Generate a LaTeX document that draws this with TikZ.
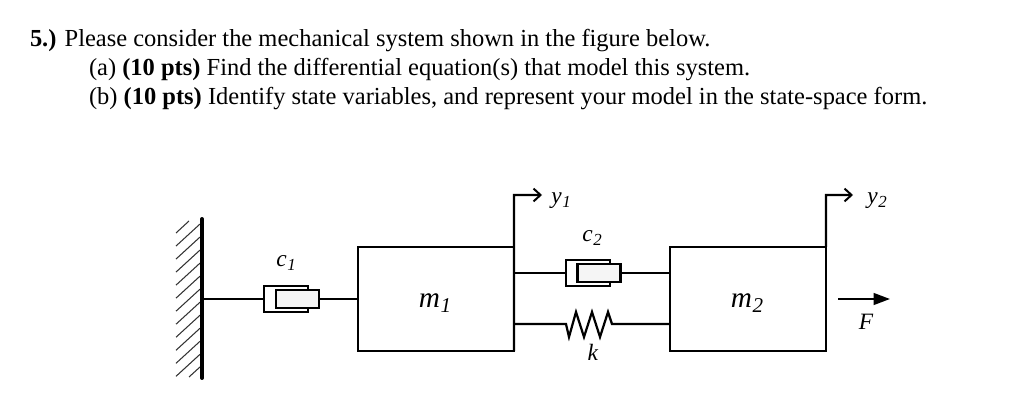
\documentclass[tikz,border=0pt]{standalone}
\usepackage{fontspec}
\setmainfont{Liberation Serif}
\usetikzlibrary{arrows.meta,positioning,calc}

\newcommand{\lab}[2]{\textit{#1}\raisebox{-0.35ex}{\kern0.5pt\scalebox{0.72}{\textit{#2}}}}
\tikzset{
  task/.style={anchor=base west,inner sep=0pt,outer sep=0pt,font=\fontsize{20.9}{25}\selectfont},
  mass/.style={draw,line width=1.9pt,inner sep=0pt,outer sep=0pt,minimum width=4.68cm,minimum height=3.12cm},
  cyl/.style={draw,line width=1.9pt,fill=white,inner sep=0pt,outer sep=0pt,minimum width=1.32cm,minimum height=0.78cm},
  piston/.style={draw,line width=1.9pt,fill=gray!8,inner sep=0pt,outer sep=0pt,minimum width=1.29cm,minimum height=0.52cm},
  wire/.style={line width=1.9pt},
  sym/.style={inner sep=0pt,font=\fontsize{20}{24}\selectfont},
  bigsym/.style={inner sep=0pt,font=\fontsize{25}{28}\selectfont},
  pointer/.style={line width=1.9pt,-{Straight Barb[length=6pt,width=11pt,line width=1.7pt]}}
}

\begin{document}
\begin{tikzpicture}[x=0.03cm,y=-0.03cm]
\useasboundingbox (0,0) rectangle (1024,401);

\node (q0) at (30,47) [task] {\textbf{5.)} Please consider the mechanical system shown in the figure below.};
\node (q1) at (89,76) [task] {(a) \textbf{(10 pts)} Find the differential equation(s) that model this system.};
\node (q2) at (89,105) [task] {(b) \textbf{(10 pts)} Identify state variables, and represent your model in the state-space form.};

% wall
\coordinate (wt) at (202,219);
\coordinate (wb) at (202,378);
\foreach \i in {1,...,11}
  \draw[line width=0.9pt,black!80] (176,233+\i*13.03) -- (200,211+\i*13.03);
\draw[line width=0.9pt,black!80] (176,233) -- (189,221);
\draw[line width=0.9pt,black!80] (189,377) -- (200,367);
\draw[line width=3.4pt,line cap=round] (wt) -- (wb);

% masses
\node (m1) at (436,299) [mass] {};
\node (m2) at (748,299) [mass] {};

% dampers
\node (c1out) at (286,299) [cyl] {};
\node (c1in) at (297.5,299) [piston] {};
\node (c2out) at (588,273) [cyl] {};
\node (c2in) at (599,273) [piston] {};
\coordinate (w1) at (wt |- c1out);
\draw[wire] (w1) -- (c1out.west);
\draw[wire] (c1in.east) -- (m1.west |- c1in.east);
\draw[wire] (m1.east |- c2out.west) -- (c2out.west);
\draw[wire] (c2in.east) -- (m2.west |- c2in.east);

% spring
\coordinate (sp) at (566,324);
\coordinate (se) at (612,324);
\draw[wire] (m1.east |- sp) -- (sp) -- (569,337) -- (576,312) -- (584,337) -- (592,312) -- (600,337) -- (608,312) -- (se) -- (m2.west |- se);

% displacement arrows
\coordinate (y1a) at (514,195);
\coordinate (y1b) at (542,195);
\coordinate (y2a) at (826,195);
\coordinate (y2b) at (853,195);
\draw[pointer] (m1.south east) -- (y1a) -- (y1b);
\draw[pointer] (m2.north east) -- (y2a) -- (y2b);
\coordinate (fa) at (838,299);
\coordinate (fb) at (890,299);
\draw[line width=1.9pt,-{Triangle[length=14pt,width=10pt]}] (fa) -- (fb);

% labels
\node (lm1) at (435,303) [bigsym] {\lab{m}{1}};
\node (lm2) at (747,303) [bigsym] {\lab{m}{2}};
\node (c1) at (286,263) [sym] {\lab{c}{1}};
\node (c2) at (592,238) [sym] {\lab{c}{2}};
\node (k) at (593,352) [sym] {\textit{k}};
\node (y1) at (561,201) [sym] {\lab{y}{1}};
\node (y2) at (877,201) [sym] {\lab{y}{2}};
\node (F) at (866,322) [sym] {\textit{F}};
\end{tikzpicture}
\end{document}
